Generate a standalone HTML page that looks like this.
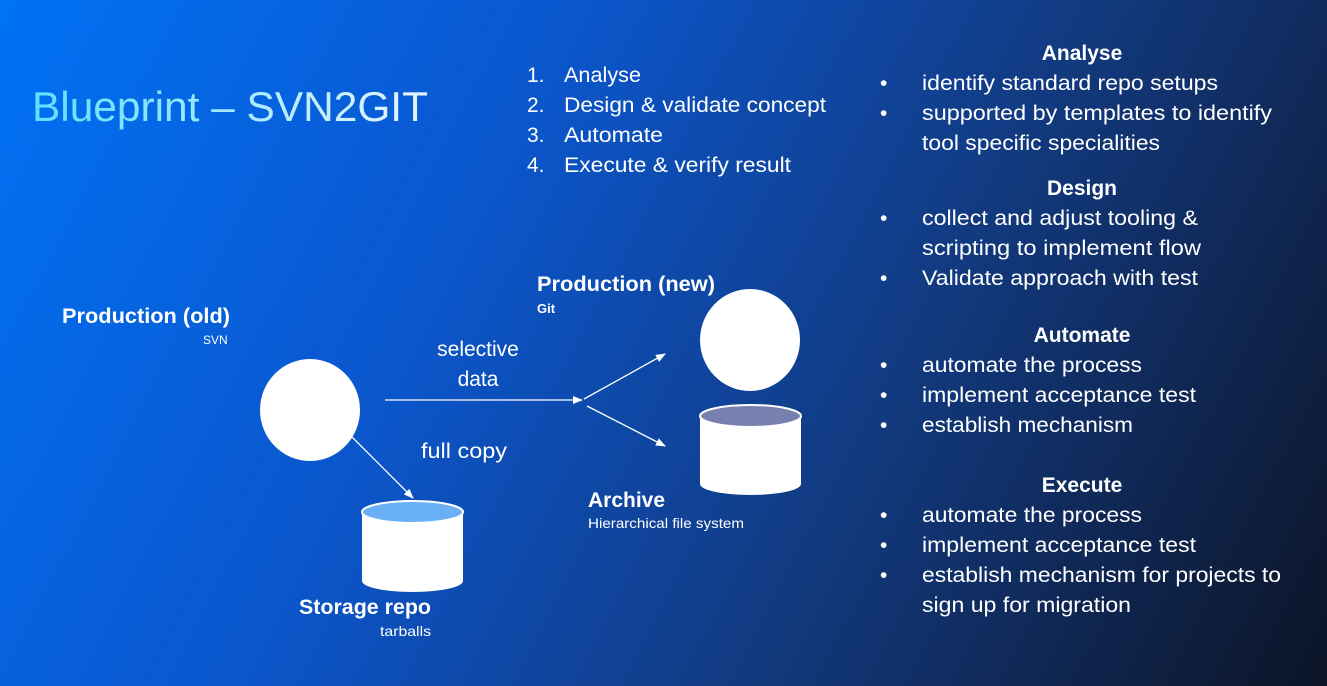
<!DOCTYPE html>
<html><head><meta charset="utf-8"><style>
html,body{margin:0;padding:0;width:1327px;height:686px;overflow:hidden}
svg{display:block}
text{font-family:"Liberation Sans",sans-serif;fill:#fff}
.b{font-weight:bold}
</style></head><body>
<svg width="1327" height="686" viewBox="0 0 1327 686" xmlns="http://www.w3.org/2000/svg">
<defs>
<linearGradient id="bg" x1="0" y1="0" x2="1327" y2="686" gradientUnits="userSpaceOnUse">
<stop offset="0" stop-color="#0072f5"/>
<stop offset="0.35" stop-color="#0b56cc"/>
<stop offset="0.65" stop-color="#123a80"/>
<stop offset="1" stop-color="#0c1426"/>
</linearGradient>
<linearGradient id="tg" x1="0" x2="1" y1="0" y2="0">
<stop offset="0" stop-color="#5fe0ff"/><stop offset="1" stop-color="#e8f4ff"/>
</linearGradient>
<marker id="ah" markerWidth="10" markerHeight="8" refX="9" refY="4" orient="auto" markerUnits="userSpaceOnUse">
<path d="M0,0 L10,4 L0,8 z" fill="#fff"/>
</marker>
</defs>
<rect width="1327" height="686" fill="url(#bg)"/>
<text x="32" y="121" font-size="42" style="fill:url(#tg)" textLength="396" lengthAdjust="spacingAndGlyphs">Blueprint – SVN2GIT</text>

<g font-size="21" lengthAdjust="spacingAndGlyphs">
<text x="527" y="82">1.</text><text x="564" y="82" textLength="77" lengthAdjust="spacingAndGlyphs">Analyse</text>
<text x="527" y="112">2.</text><text x="564" y="112" textLength="262" lengthAdjust="spacingAndGlyphs">Design &amp; validate concept</text>
<text x="527" y="142">3.</text><text x="564" y="142" textLength="99" lengthAdjust="spacingAndGlyphs">Automate</text>
<text x="527" y="172">4.</text><text x="564" y="172" textLength="227" lengthAdjust="spacingAndGlyphs">Execute &amp; verify result</text>
</g>

<g font-size="21">
<text x="1082" y="60" text-anchor="middle" class="b">Analyse</text>
<text x="880" y="90">•</text><text x="922" y="90" textLength="296" lengthAdjust="spacingAndGlyphs">identify standard repo setups</text>
<text x="880" y="120">•</text><text x="922" y="120" textLength="350" lengthAdjust="spacingAndGlyphs">supported by templates to identify</text>
<text x="922" y="150" textLength="238" lengthAdjust="spacingAndGlyphs">tool specific specialities</text>
<text x="1082" y="195" text-anchor="middle" class="b">Design</text>
<text x="880" y="225">•</text><text x="922" y="225" textLength="276" lengthAdjust="spacingAndGlyphs">collect and adjust tooling &amp;</text>
<text x="922" y="255" textLength="279" lengthAdjust="spacingAndGlyphs">scripting to implement flow</text>
<text x="880" y="285">•</text><text x="922" y="285" textLength="276" lengthAdjust="spacingAndGlyphs">Validate approach with test</text>
<text x="1082" y="342" text-anchor="middle" class="b">Automate</text>
<text x="880" y="372">•</text><text x="922" y="372" textLength="220" lengthAdjust="spacingAndGlyphs">automate the process</text>
<text x="880" y="402">•</text><text x="922" y="402" textLength="274" lengthAdjust="spacingAndGlyphs">implement acceptance test</text>
<text x="880" y="432">•</text><text x="922" y="432" textLength="211" lengthAdjust="spacingAndGlyphs">establish mechanism</text>
<text x="1082" y="492" text-anchor="middle" class="b">Execute</text>
<text x="880" y="522">•</text><text x="922" y="522" textLength="220" lengthAdjust="spacingAndGlyphs">automate the process</text>
<text x="880" y="552">•</text><text x="922" y="552" textLength="274" lengthAdjust="spacingAndGlyphs">implement acceptance test</text>
<text x="880" y="582">•</text><text x="922" y="582" textLength="359" lengthAdjust="spacingAndGlyphs">establish mechanism for projects to</text>
<text x="922" y="612" textLength="209" lengthAdjust="spacingAndGlyphs">sign up for migration</text>
</g>

<ellipse cx="310" cy="410" rx="50" ry="51" fill="#fff"/>
<ellipse cx="750" cy="340" rx="50" ry="51" fill="#fff"/>

<path d="M362,512 L362,581 A50.5,11 0 0 0 463,581 L463,512 Z" fill="#fff"/>
<ellipse cx="412.5" cy="512" rx="50.5" ry="11" fill="#6ab0f5" stroke="#fff" stroke-width="2"/>
<path d="M700,416 L700,484 A50.5,11 0 0 0 801,484 L801,416 Z" fill="#fff"/>
<ellipse cx="750.5" cy="416" rx="50.5" ry="11" fill="#7880b0" stroke="#fff" stroke-width="2"/>

<g stroke="#fff" stroke-width="1.3" fill="none">
<line x1="385" y1="400" x2="582" y2="400" marker-end="url(#ah)"/>
<line x1="584" y1="399" x2="665" y2="354" marker-end="url(#ah)"/>
<line x1="587" y1="406" x2="665" y2="446" marker-end="url(#ah)"/>
<line x1="348" y1="433" x2="413" y2="498" marker-end="url(#ah)"/>
</g>

<text x="62" y="323" font-size="21" class="b" textLength="168" lengthAdjust="spacingAndGlyphs">Production (old)</text>
<text x="203" y="344" font-size="12">SVN</text>
<text x="478" y="356" font-size="21" text-anchor="middle">selective</text>
<text x="478" y="386" font-size="21" text-anchor="middle">data</text>
<text x="421" y="458" font-size="21" textLength="86" lengthAdjust="spacingAndGlyphs">full copy</text>
<text x="537" y="291" font-size="21" class="b" textLength="178" lengthAdjust="spacingAndGlyphs">Production (new)</text>
<text x="537" y="313" font-size="13" class="b">Git</text>
<text x="588" y="507" font-size="21" class="b" textLength="77" lengthAdjust="spacingAndGlyphs">Archive</text>
<text x="588" y="528" font-size="14" textLength="156" lengthAdjust="spacingAndGlyphs">Hierarchical file system</text>
<text x="299" y="614" font-size="21" class="b" textLength="132" lengthAdjust="spacingAndGlyphs">Storage repo</text>
<text x="380" y="636" font-size="14" textLength="51" lengthAdjust="spacingAndGlyphs">tarballs</text>
</svg>
</body></html>
